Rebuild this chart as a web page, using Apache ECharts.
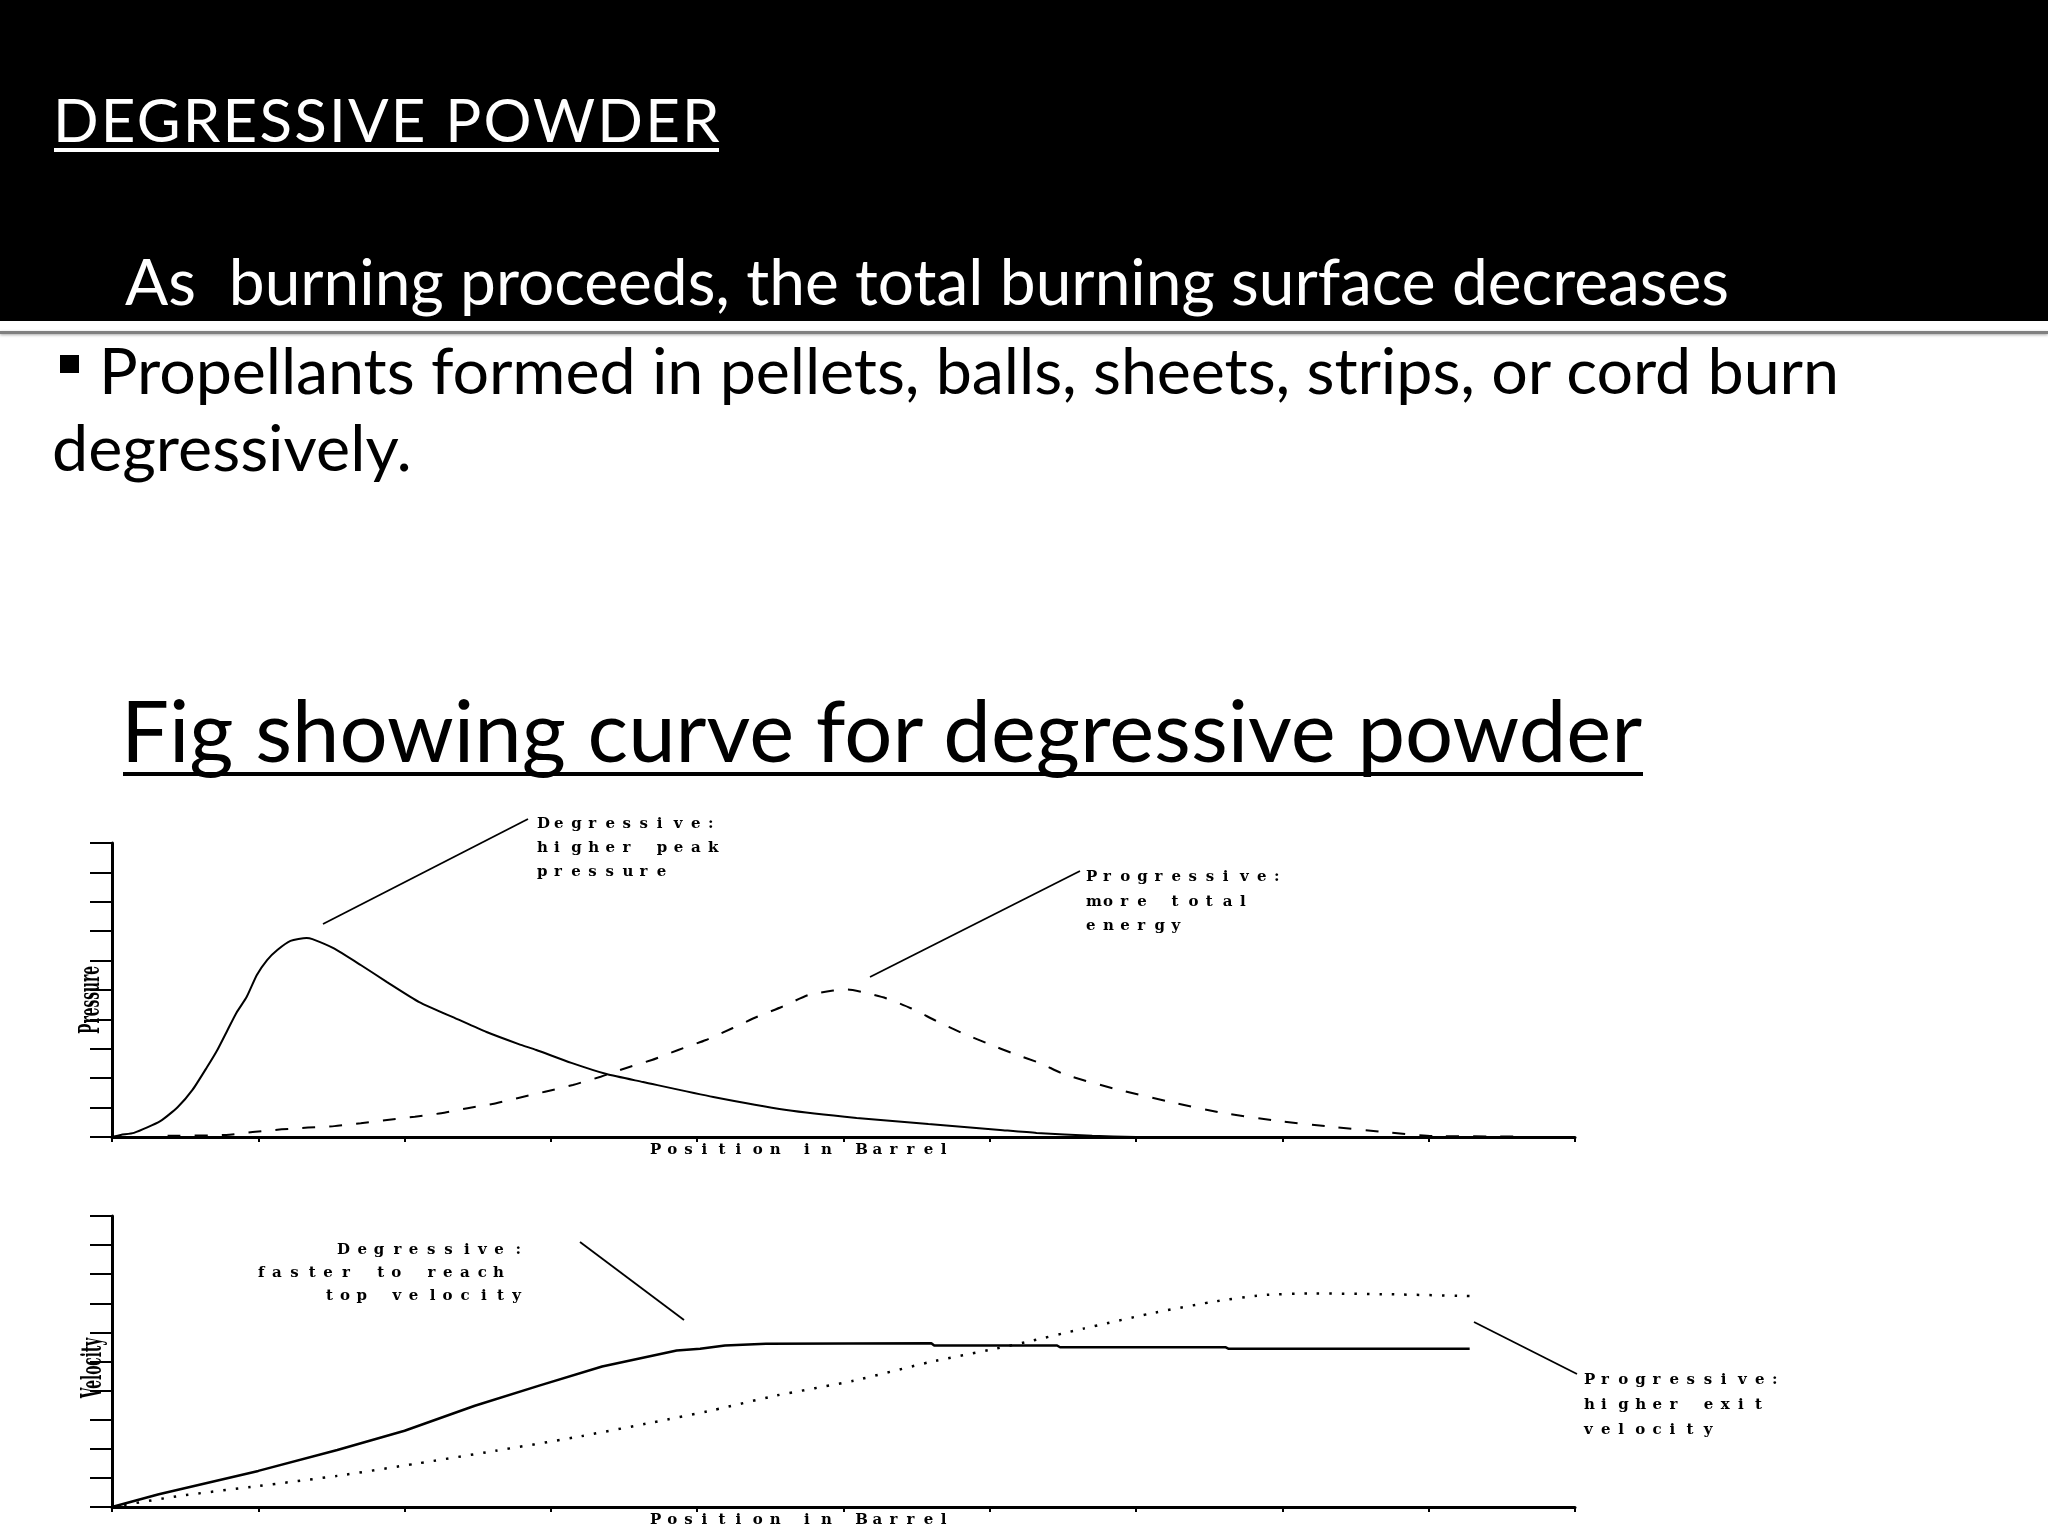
<!DOCTYPE html>
<html>
<head>
<meta charset="utf-8">
<title>Degressive powder</title>
<script src="https://cdn.jsdelivr.net/npm/echarts@6/dist/echarts.min.js"></script>
<style>
  body { margin: 0; width: 2048px; height: 1536px; overflow: hidden; background: #fff; position: relative; }
  .band { position: absolute; left: 0; top: 0; width: 2048px; height: 321px; background: #000; }
  .rule { position: absolute; left: 0; top: 331px; width: 2048px; height: 3px; background: #808080; box-shadow: 0 1px 3px rgba(0, 0, 0, 0.35); }
  #chart { position: absolute; left: 0; top: 0; width: 2048px; height: 1536px; }
  .t { position: absolute; white-space: pre; font-family: Lato, sans-serif; line-height: 1.2; }
  .uline { position: absolute; }
</style>
</head>
<body>
  <div class="band"></div>
  <div class="rule"></div>
  <div id="chart"></div>

  <!-- slide text -->
  <div class="t" style="left:53px; top:83px; font-size:60px; letter-spacing:2.2px; color:#fff;">DEGRESSIVE POWDER</div>
  <div class="uline" style="left:54px; top:148px; width:665px; height:4px; background:#fff;"></div>
  <div class="t" style="left:125px; top:243px; font-size:64px; color:#fff;">As  burning proceeds, the total burning surface decreases</div>
  <div class="uline" style="left:60px; top:355px; width:19px; height:18px; background:#000;"></div>
  <div class="t" style="left:99px; top:331px; font-size:64.6px; letter-spacing:-0.1px; color:#000;">Propellants formed in pellets, balls, sheets, strips, or cord burn</div>
  <div class="t" style="left:52px; top:408px; font-size:64.6px; color:#000;">degressively.</div>
  <div class="t" style="left:121px; top:678px; font-size:85px; color:#000;">Fig showing curve for degressive powder</div>
  <div class="uline" style="left:123px; top:772px; width:1520px; height:4px; background:#000;"></div>

<script>
// top chart: pressure vs position in barrel
const pressureDegX = [0, 0.6, 1.5, 3.3, 4.5, 5.5, 6.5, 7.2, 7.9, 8.5, 9.2, 9.9, 10.6, 11.3, 12.2, 13.3, 13.7, 15.1, 17, 18.8, 21, 23.6, 25.6, 27.8, 29, 31.4, 33.8, 36.3, 41.1, 46.1, 50.9, 55.8, 60.7, 63.2, 67, 70]
const pressureDegY = [0, 0.7, 1.4, 5.4, 10.2, 16, 23.8, 29.6, 36.4, 42.2, 47.6, 55.1, 60.2, 63.6, 66.7, 67.7, 67.3, 64.3, 58.5, 52.7, 45.9, 40.1, 35.7, 31.6, 29.6, 25.2, 21.4, 18.7, 13.6, 9.2, 6.5, 4.4, 2.4, 1.4, 0.4, 0]
const pressureProX = [3.8, 7.8, 9.8, 11.6, 13.4, 15.2, 17, 18.8, 20.7, 22.5, 24.3, 26, 27.7, 29.6, 31.5, 33.4, 35.1, 36.9, 38.7, 40.6, 42.4, 44.1, 45.8, 47.6, 49.3, 50.3, 51.2, 52.9, 54.6, 56.3, 58.1, 59.8, 61.7, 63.5, 65.1, 68.6, 72.1, 75.9, 79.5, 83.3, 86.8, 90.3, 96]
const pressureProY = [0.4, 0.7, 1.8, 2.6, 3.2, 3.7, 4.7, 5.8, 6.9, 8.1, 9.8, 11.2, 13.2, 15.4, 17.7, 20.5, 23.4, 26.2, 29.6, 33, 37, 40.9, 44.3, 48.3, 49.8, 50.2, 49.4, 47.2, 43.8, 39.6, 35.4, 31.9, 28.2, 25, 21.3, 16.3, 12.2, 8.2, 5.6, 3.5, 1.8, 0.3, 0.2]

// bottom chart: velocity vs position in barrel
const velocityDegX = [0, 3.2, 10, 15.4, 20, 24.8, 29.2, 33.5, 38.6, 40.2, 41.9, 44.7, 56, 56.2, 64.6, 64.8, 76.1, 76.3, 92.8]
const velocityDegY = [0, 4.4, 12.4, 19.6, 26.2, 34.8, 41.7, 48.3, 53.8, 54.4, 55.5, 56.1, 56.3, 55.5, 55.5, 54.9, 54.9, 54.4, 54.4]
const velocityProX = [0, 4.6, 10, 15.4, 20.8, 26.2, 31.6, 37, 41.1, 45.4, 50.7, 55.9, 60.4, 62.5, 66.4, 70.9, 75.1, 78.6, 82.2, 87.3, 92.8]
const velocityProY = [0, 3.8, 7.2, 10.7, 14.9, 19.3, 23.9, 29.1, 33.3, 38.3, 43.4, 49.8, 54.4, 56.7, 61.3, 66.4, 70.4, 72.8, 73.4, 73.1, 72.5]

const axisTitleX = 'Position in Barrel'
const axisTitlesY = ['Pressure', 'Velocity']
const pressureNotes = [['Degressive:', 'higher peak', 'pressure'], ['Progressive:', 'more total', 'energy']]
const velocityNotes = [['Degressive:', 'faster to reach ', 'top velocity'], ['Progressive:', 'higher exit', 'velocity']]

const CELL = 17.1   // the old bitmap font is very widely spaced
const PIXEL_FONT = { fontFamily: 'DejaVu Serif', fontWeight: 'bold', fontSize: 15 }

const pair = (xs, ys) => xs.map((x, i) => [x, ys[i]])

// one rich token per character so every glyph sits in a fixed-width cell
const spaced = lines => lines.map(l => l.split('').map(ch => '{c|' + ch + '}').join('')).join('\n')

const note = (lines, x, y, lineHeight, align = 'left') => ({
  type: 'text',
  x, y,
  silent: true,
  style: {
    text: spaced(lines),
    align,
    verticalAlign: 'top',
    rich: { c: { ...PIXEL_FONT, width: CELL, lineHeight, align, fill: '#000' } }
  }
})

const leader = (x1, y1, x2, y2) => ({
  type: 'line',
  silent: true,
  shape: { x1, y1, x2, y2 },
  style: { stroke: '#000', lineWidth: 1.8 }
})

// the y titles are tall and squeezed in the original
const yTitle = (text, x, y) => ({
  type: 'text',
  x, y,
  rotation: Math.PI / 2,
  scaleX: 0.51,
  silent: true,
  style: { text, align: 'center', verticalAlign: 'middle', fontFamily: 'DejaVu Serif', fontWeight: 'bold', fontSize: 27, fill: '#000' }
})

const xAxisFor = gridIndex => ({
  type: 'value',
  gridIndex,
  min: 0,
  max: 100,
  interval: 10,
  name: spaced([axisTitleX]),
  nameLocation: 'middle',
  nameGap: 6,
  nameTextStyle: {
    padding: [0, 79, 0, 0],
    rich: { c: { ...PIXEL_FONT, width: CELL, lineHeight: 15, align: 'left', color: '#000' } }
  },
  axisLine: { lineStyle: { color: '#000', width: 3 } },
  axisTick: { length: 5, lineStyle: { color: '#000', width: 2 } },
  axisLabel: { show: false },
  splitLine: { show: false }
})

const yAxisFor = gridIndex => ({
  type: 'value',
  gridIndex,
  min: 0,
  max: 100,
  interval: 10,
  axisLine: { show: true, lineStyle: { color: '#000', width: 3 } },
  axisTick: { show: true, length: 22, lineStyle: { color: '#000', width: 2 } },
  axisLabel: { show: false },
  splitLine: { show: false }
})

const chart = echarts.init(document.getElementById('chart'))

chart.setOption({
  animation: false,
  grid: [
    { left: 112, top: 843, width: 1463, height: 294 },
    { left: 112, top: 1216, width: 1463, height: 291 }
  ],
  xAxis: [xAxisFor(0), xAxisFor(1)],
  yAxis: [yAxisFor(0), yAxisFor(1)],
  series: [
    {
      name: 'Degressive pressure',
      type: 'line',
      xAxisIndex: 0,
      yAxisIndex: 0,
      data: pair(pressureDegX, pressureDegY),
      showSymbol: false,
      smooth: 0.2,
      silent: true,
      lineStyle: { color: '#000', width: 2 }
    },
    {
      name: 'Progressive pressure',
      type: 'line',
      xAxisIndex: 0,
      yAxisIndex: 0,
      data: pair(pressureProX, pressureProY),
      showSymbol: false,
      smooth: 0.2,
      silent: true,
      lineStyle: { color: '#000', width: 2, type: [13, 14] }
    },
    {
      name: 'Degressive velocity',
      type: 'line',
      xAxisIndex: 1,
      yAxisIndex: 1,
      data: pair(velocityDegX, velocityDegY),
      showSymbol: false,
      silent: true,
      lineStyle: { color: '#000', width: 2.5 }
    },
    {
      name: 'Progressive velocity',
      type: 'line',
      xAxisIndex: 1,
      yAxisIndex: 1,
      data: pair(velocityProX, velocityProY),
      showSymbol: false,
      smooth: 0.2,
      silent: true,
      lineStyle: { color: '#000', width: 2.5, type: [2.5, 10] }
    }
  ],
  graphic: [
    yTitle(axisTitlesY[0], 92, 1000),
    yTitle(axisTitlesY[1], 94, 1368),
    note(pressureNotes[0], 537, 812, 24),
    note(pressureNotes[1], 1086, 865, 24.5),
    note(velocityNotes[0], 521, 1239, 23, 'right'),
    note(velocityNotes[1], 1584, 1368, 25),
    leader(528, 819, 323, 924),
    leader(1080, 871, 870, 977),
    leader(580, 1242, 684, 1320),
    leader(1474, 1322, 1577, 1374)
  ]
})
</script>
</body>
</html>
